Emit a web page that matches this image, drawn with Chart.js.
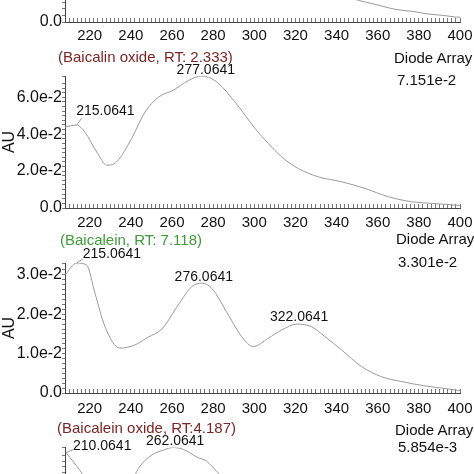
<!DOCTYPE html>
<html>
<head>
<meta charset="utf-8">
<script src="https://cdn.jsdelivr.net/npm/chart.js@4.4.1/dist/chart.umd.min.js"></script>
<style>
html, body { margin: 0; padding: 0; background: #fff; overflow: hidden; }
#page { position: relative; width: 474px; height: 474px; overflow: hidden; background: #fff;
  font-family: "Liberation Sans", Arial, sans-serif; }
#page canvas { position: absolute; left: 0; }
.lbl { position: absolute; font-size: 15px; line-height: 15px; white-space: nowrap; color: #111; }
.red { color: #7b2626; }
.green { color: #3f9b3a; }
</style>
</head>
<body>
<div id="page">
  <div class="lbl red" style="left:58px; top:49px">(Baicalin oxide, RT: 2.333)</div>
  <div class="lbl" style="left:394px; top:50px">Diode Array</div>
  <div class="lbl" style="left:397px; top:72px">7.151e-2</div>

  <div class="lbl green" style="left:60px; top:232px">(Baicalein, RT: 7.118)</div>
  <div class="lbl" style="left:396px; top:231px">Diode Array</div>
  <div class="lbl" style="left:398px; top:254px">3.301e-2</div>

  <div class="lbl red" style="left:57px; top:420px">(Baicalein oxide, RT:4.187)</div>
  <div class="lbl" style="left:395px; top:422px">Diode Array</div>
  <div class="lbl" style="left:398px; top:439px">5.854e-3</div>
</div>
<script>
// wavelengths (nm) and absorbance (AU)
const xTail = [300, 320, 330, 340, 350.6, 357.7, 369.3, 377.2, 383.8, 391.8, 397.6, 400];
const yTail = [0.030, 0.019, 0.014, 0.0108, 0.0082, 0.0069, 0.0047, 0.0040, 0.0031, 0.0025, 0.0019, 0.0018];

const xBaicalinOx = [208, 213.7, 217.7, 223.4, 228.3, 233.1, 240.4, 246.9, 253.4, 260.6, 267.9, 274.5,
  280.9, 290.6, 300.4, 306.8, 313.3, 321.4, 331.1, 342.5, 353.8, 365.2, 376.5, 386.3, 397.6, 400];
const yBaicalinOx = [0.0439, 0.0449, 0.0410, 0.0304, 0.0232, 0.0250, 0.0377, 0.0520, 0.0600, 0.0638, 0.0690, 0.0715,
  0.0690, 0.0575, 0.0430, 0.0350, 0.0277, 0.0214, 0.0169, 0.0142, 0.0106, 0.0061, 0.0034, 0.0025, 0.0016, 0.0014];

const xBaicalein = [208, 213.7, 218.5, 222.6, 227.4, 234.7, 242.0, 248.5, 255.0, 263.1, 269.6, 274.5, 279.3, 287.4,
  293.9, 299.5, 306.8, 313.3, 320.6, 327.9, 334.4, 342.5, 352.2, 362.0, 371.7, 383.0, 397.6, 400];
const yBaicalein = [0.0300, 0.0330, 0.0325, 0.0253, 0.0169, 0.0114, 0.0122, 0.0142, 0.0162, 0.0224, 0.0270, 0.0279,
  0.0266, 0.0198, 0.0143, 0.0118, 0.0139, 0.0160, 0.0175, 0.0168, 0.0143, 0.0109, 0.0067, 0.0041, 0.0029, 0.0018,
  0.0008, 0.0006];

const xBaicaleinOx = [208.5, 212.4, 216.3, 225, 235, 242.9, 249.3, 255.8, 260.6, 265.5, 272.0, 276.9, 281.7,
  290, 300, 320, 340, 360, 380, 400];
const yBaicaleinOx = [0.00563, 0.00519, 0.00471, 0.0033, 0.0030, 0.00481, 0.00547, 0.00574, 0.005854, 0.00577,
  0.00544, 0.00525, 0.00481, 0.0040, 0.0032, 0.0026, 0.0018, 0.0010, 0.0005, 0.0002];

const xLabels = [220, 240, 260, 280, 300, 320, 340, 360, 380, 400];

Chart.defaults.font.family = '"Liberation Sans", Arial, sans-serif';
Chart.defaults.font.size = 15;
Chart.defaults.color = '#111';

// peak labels, drawn at the data point through the scales
const peakPlugin = {
  id: 'peaks',
  afterDraw(chart, args, opts) {
    const ctx = chart.ctx;
    const sx = chart.scales.x, sy = chart.scales.y;
    ctx.save();
    ctx.font = '14px "Liberation Sans", Arial, sans-serif';
    ctx.fillStyle = '#111';
    ctx.textBaseline = 'middle';
    (opts.items || []).forEach(p => {
      const px = sx.getPixelForValue(p.x), py = sy.getPixelForValue(p.y);
      if (p.lead) {
        ctx.strokeStyle = '#999';
        ctx.lineWidth = 1;
        ctx.beginPath();
        ctx.moveTo(px, py);
        ctx.lineTo(px + p.lead[0], py + p.lead[1]);
        ctx.stroke();
      }
      ctx.textAlign = p.align || 'center';
      ctx.fillText(p.text, px + p.dx, py + p.dy);
    });
    ctx.restore();
  }
};

function makePanel(xs, ys, o) {
  const xh = 26;
  const h = o.plotBottom - o.canvasTop + xh;
  const cv = document.createElement('canvas');
  cv.width = 474;
  cv.height = h;
  cv.style.top = o.canvasTop + 'px';
  document.getElementById('page').insertBefore(cv, document.getElementById('page').firstChild);

  const yLabel = v => {
    if (Math.abs(v) < 1e-12) return '0.0';
    const r = v / o.yMajor;
    if (Math.abs(r - Math.round(r)) > 1e-6) return '';
    return (v / Math.pow(10, o.exp)).toFixed(1) + 'e' + o.exp;
  };

  return new Chart(cv, {
    type: 'line',
    data: {
      datasets: [{
        data: xs.map((x, i) => ({ x: x, y: ys[i] })),
        borderColor: '#9a9a9a',
        borderWidth: 1,
        pointRadius: 0,
        cubicInterpolationMode: 'monotone',
        fill: false
      }]
    },
    plugins: [peakPlugin],
    options: {
      responsive: false,
      animation: false,
      devicePixelRatio: 1,
      layout: { padding: { top: o.plotTop - o.canvasTop, right: 14, left: 0, bottom: 0 } },
      plugins: {
        legend: { display: false },
        tooltip: { enabled: false },
        peaks: { items: o.peaks || [] }
      },
      scales: {
        x: {
          type: 'linear',
          min: 208,
          max: 400,
          ticks: {
            stepSize: 2,
            autoSkip: false,
            maxRotation: 0,
            maxTicksLimit: 500,
            padding: o.xPad,
            callback: v => (xLabels.includes(v) ? String(v) : '')
          },
          grid: { drawOnChartArea: false, tickLength: -4, tickColor: '#777' },
          border: { color: '#444' },
          afterFit(s) { s.height = xh; s.paddingLeft = 0; s.paddingRight = 0; }
        },
        y: {
          min: 0,
          max: o.yMax,
          ticks: {
            stepSize: o.yStep,
            autoSkip: false,
            maxTicksLimit: 500,
            padding: 0,
            font: { size: 16 },
            callback: yLabel
          },
          grid: { drawOnChartArea: false, tickLength: 3, tickColor: '#777' },
          border: { color: '#444' },
          title: { display: true, text: 'AU', font: { size: 16 }, padding: 0 },
          afterFit(s) { s.width = 65; s.paddingTop = 0; s.paddingBottom = 0; }
        }
      }
    }
  });
}

// top panel, only its bottom edge is in view
makePanel(xTail, yTail, {
  canvasTop: -115, plotTop: -110, plotBottom: 22, xPad: 8.5,
  yMax: 0.05, yStep: 0.0025, yMajor: 0.02, exp: -2
});

makePanel(xBaicalinOx, yBaicalinOx, {
  canvasTop: 60, plotTop: 76, plotBottom: 208, xPad: 10,
  yMax: 0.07151, yStep: 0.0025, yMajor: 0.02, exp: -2,
  peaks: [
    { x: 213.7, y: 0.0449, text: '215.0641', align: 'left', dx: -0.5, dy: -14, lead: [5, -7] },
    { x: 274.5, y: 0.0715, text: '277.0641', dx: 4, dy: -6 }
  ]
});

makePanel(xBaicalein, yBaicalein, {
  canvasTop: 245, plotTop: 263, plotBottom: 393, xPad: 10.5,
  yMax: 0.03301, yStep: 0.00125, yMajor: 0.01, exp: -2,
  peaks: [
    { x: 213.7, y: 0.0330, text: '215.0641', align: 'left', dx: 6, dy: -9, lead: [6, -4] },
    { x: 274.5, y: 0.0279, text: '276.0641', dx: 2, dy: -6 },
    { x: 320.6, y: 0.0175, text: '322.0641', dx: 2.5, dy: -7 }
  ]
});

// bottom panel, only its top edge is in view
makePanel(xBaicaleinOx, yBaicaleinOx, {
  canvasTop: 435, plotTop: 447.5, plotBottom: 581, xPad: 11.5,
  yMax: 0.005854, yStep: 0.00025, yMajor: 0.002, exp: -3,
  peaks: [
    { x: 208.5, y: 0.00563, text: '210.0641', align: 'left', dx: 7, dy: -6, lead: [7, -3] },
    { x: 260.6, y: 0.005854, text: '262.0641', dx: 2, dy: -6.5 }
  ]
});
</script>
</body>
</html>
